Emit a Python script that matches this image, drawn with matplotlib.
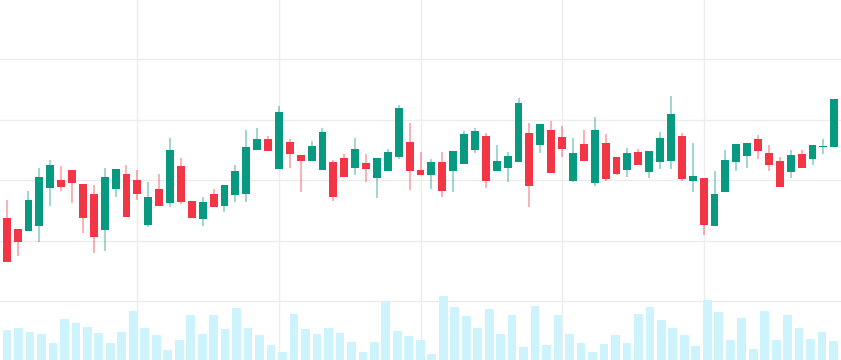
import numpy as np
import matplotlib
matplotlib.use("Agg")
import matplotlib.pyplot as plt

# candle data (arbitrary price units)
opens = [141.7, 131.3, 129.3, 134.0, 172.3, 180.3, 190.0, 176.3, 166.0, 129.7,
         171.0, 185.7, 179.7, 134.7, 171.3, 156.7, 193.7, 158.7, 140.7, 166.0,
         153.7, 165.3, 166.3, 210.0, 221.3, 190.7, 217.7, 205.0, 199.0, 190.0,
         197.7, 202.3, 191.7, 196.7, 182.0, 189.0, 203.3, 217.7, 190.0, 185.0,
         197.7, 189.0, 195.7, 210.0, 224.3, 189.0, 192.0, 198.3, 226.7, 215.0,
         230.0, 223.3, 179.3, 215.7, 176.7, 217.3, 202.7, 189.7, 207.7, 188.0,
         198.0, 199.0, 224.3, 179.0, 182.3, 134.0, 167.7, 198.0, 203.7, 221.0,
         206.7, 199.0, 187.7, 205.7, 201.0, 212.7, 213.3]
closes = [98.3, 117.7, 159.7, 182.7, 195.3, 172.7, 177.3, 142.3, 123.3, 182.7,
          191.3, 143.0, 166.3, 162.7, 154.3, 209.7, 157.7, 141.7, 157.7, 153.3,
          174.7, 189.0, 213.3, 221.3, 208.7, 247.7, 205.7, 199.0, 214.3, 228.3,
          163.3, 183.0, 210.7, 190.7, 202.3, 207.7, 251.7, 189.3, 185.0, 198.3,
          169.3, 209.3, 225.7, 229.3, 179.0, 199.0, 204.3, 257.3, 174.0, 235.7,
          187.3, 210.7, 206.7, 198.7, 230.0, 181.0, 185.7, 207.3, 195.0, 209.0,
          221.7, 246.3, 181.3, 184.0, 135.0, 166.3, 200.3, 215.7, 217.0, 208.7,
          195.0, 172.7, 205.3, 192.0, 215.0, 214.3, 260.7]
highs = [160.0, 131.3, 169.3, 191.7, 200.0, 194.3, 190.0, 176.3, 175.0, 191.7,
         191.3, 194.7, 190.0, 177.7, 186.0, 222.3, 202.3, 158.7, 163.0, 170.7,
         174.7, 194.7, 230.3, 231.7, 224.3, 254.3, 221.0, 205.0, 219.0, 231.7,
         200.0, 205.7, 221.7, 205.7, 202.3, 211.0, 255.0, 236.7, 207.7, 200.7,
         207.7, 209.3, 229.0, 232.3, 226.7, 215.0, 207.7, 261.7, 236.7, 235.7,
         239.3, 234.0, 221.7, 230.0, 242.7, 226.0, 202.7, 211.7, 211.0, 209.0,
         227.7, 264.0, 226.7, 217.3, 182.3, 189.3, 210.0, 215.7, 217.0, 225.0,
         215.0, 202.7, 210.0, 210.0, 215.0, 220.7, 260.7]
lows = [98.3, 104.3, 129.3, 117.7, 154.0, 168.7, 156.7, 126.7, 106.7, 109.3,
        162.7, 143.0, 160.0, 133.3, 154.3, 153.3, 156.0, 141.7, 134.0, 153.3,
        147.7, 158.3, 158.3, 210.0, 208.7, 190.7, 191.7, 168.3, 199.0, 190.0,
        159.0, 183.0, 185.0, 178.3, 161.7, 189.0, 200.7, 170.0, 185.0, 171.0,
        163.3, 168.3, 195.7, 207.3, 171.7, 189.0, 178.3, 198.3, 153.3, 206.7,
        187.3, 203.3, 178.3, 198.7, 174.0, 179.3, 185.0, 183.3, 195.0, 181.7,
        191.3, 191.0, 179.3, 167.7, 125.0, 134.0, 167.7, 189.3, 192.3, 200.7,
        189.3, 172.7, 181.7, 192.0, 195.0, 205.7, 213.3]

# volume bars (separate, slightly wider spacing in the picture)
volume = [30, 32, 28, 26, 17, 41, 37, 33, 27, 17, 28, 49, 32, 25, 10, 20, 45, 26,
          45, 31, 52, 32, 25, 15, 8, 46, 31, 26, 32, 27, 18, 8, 18, 58, 29, 24,
          20, 6, 64, 53, 44, 32, 51, 26, 45, 13, 54, 15, 45, 26, 17, 8, 16, 25,
          17, 46, 53, 40, 32, 25, 14, 60, 48, 20, 42, 11, 49, 20, 45, 32, 21, 28, 19]

price_grid = [59, 119.5, 180, 240.5, 301]
time_grid = [12, 25, 38, 51, 64]

UP = "#089981"
DOWN = "#f23645"
VOL = "#cdf3fc"
GRID = "#ececec"

opens = np.array(opens)
closes = np.array(closes)
highs = np.array(highs)
lows = np.array(lows)
idx = np.arange(len(opens))
up = closes >= opens
colors = np.where(up, UP, DOWN)

fig = plt.figure(figsize=(8.41, 3.6), dpi=100)

# candle axes first (carries the grid)
ax = fig.add_axes([0, 0, 1, 1])
ax.set_xlim(-0.615, len(opens) - 1 + 0.615)
ax.set_ylim(0, 360)
for g in price_grid:
    ax.axhline(g, color=GRID, lw=1, zorder=0)
for g in time_grid:
    ax.axvline(g, color=GRID, lw=1, zorder=0)

ax.vlines(idx, lows, highs, colors=colors, lw=1.1, alpha=0.5, zorder=2)
body_lo = np.minimum(opens, closes)
body_h = np.maximum(np.abs(closes - opens), 1.2)
ax.bar(idx, body_h, bottom=body_lo, width=0.73, color=colors, zorder=3)
ax.axis("off")

# volume on its own axes, transparent
axv = fig.add_axes([0, 0, 1, 1])
axv.patch.set_alpha(0)
axv.set_xlim(-0.61, len(volume) - 1 + 0.65)
axv.set_ylim(0, 360)
axv.bar(np.arange(len(volume)), volume, width=0.76, color=VOL)
axv.axis("off")

fig.savefig("out.png", dpi=100, facecolor="white")
